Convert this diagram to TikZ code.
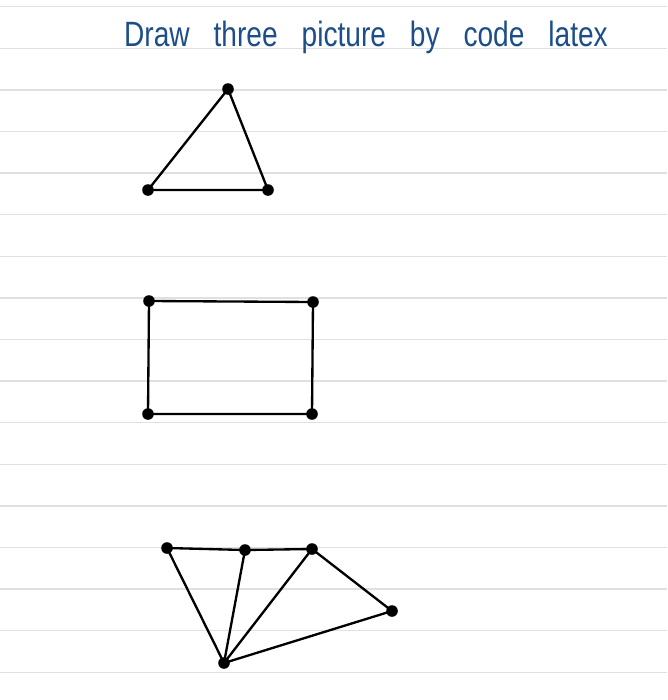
\documentclass[tikz,border=0pt]{standalone}
\usepackage{fontspec}
\setmainfont{Liberation Sans}
\usepackage{xcolor}
\usetikzlibrary{math}
\usetikzlibrary{calc}

\definecolor{ink}{RGB}{30,78,138}
\definecolor{ruling}{RGB}{224,224,224}

\begin{document}
\begin{tikzpicture}[line width=0.7mm, x=0.03cm, y=-0.03cm]

  \tikzmath{
    \dotradius = 5.8;  % radius of the dots
    \rulefirst = 6.7;  % first line of the paper
    \rulestep  = 41.6; % distance between lines of the paper
  }

  \useasboundingbox (0,0) rectangle (667,700);

  % lines of the paper
  \foreach \k in {0,...,16}
    \draw[ruling, line width=0.45mm]
      (0, {\rulefirst+\k*\rulestep}) -- (667, {\rulefirst+\k*\rulestep});

  % title
  \node[ink, anchor=base west, inner sep=0pt,
        font=\fontsize{30}{30}\selectfont] (title) at (123, 46)
    {\scalebox{0.8}[1]{\spaceskip=25.5pt Draw three picture by code latex}};

  % triangle
  \coordinate (T1) at (228, 89);
  \coordinate (T2) at (148, 190);
  \coordinate (T3) at (268, 190);
  \draw (T1) -- (T2) -- (T3) -- cycle;
  \foreach \p in {T1,T2,T3}
    \fill (\p) circle [radius=\dotradius];

  % rectangle
  \coordinate (R1) at (149, 301);
  \coordinate (R2) at (313, 302);
  \coordinate (R3) at (312, 414);
  \coordinate (R4) at (148, 414);
  \draw (R1) -- (R2) -- (R3) -- (R4) -- cycle;
  \foreach \p in {R1,R2,R3,R4}
    \fill (\p) circle [radius=\dotradius];

  % fan of triangles
  \coordinate (F1) at (167, 548);
  \coordinate (F2) at (245, 550);
  \coordinate (F3) at (312, 549);
  \coordinate (F4) at (392, 611);
  \coordinate (F5) at (224, 663);
  \draw (F1) -- (F2) -- (F3) -- (F4) -- (F5) -- cycle;
  \draw (F2) -- (F5);
  \draw (F3) -- (F5);
  \foreach \p in {F1,F2,F3,F4,F5}
    \fill (\p) circle [radius=\dotradius];

\end{tikzpicture}
\end{document}
